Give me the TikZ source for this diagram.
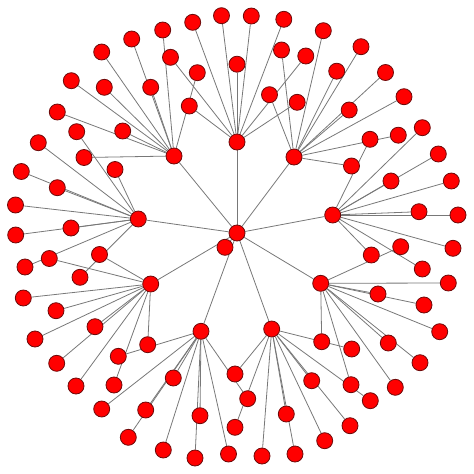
\documentclass[tikz,border=0pt]{standalone}
\usetikzlibrary{backgrounds}
\definecolor{vred}{RGB}{255,0,0}
\definecolor{vrim}{RGB}{110,10,10}
\definecolor{egray}{RGB}{120,120,120}
\begin{document}
\begin{tikzpicture}[x=1pt, y=-1pt]

      \tikzset{vertex/.style={draw=vrim, circle, inner sep=0pt, minimum size=16pt, line width=.8pt, fill=vred}}
      \tikzset{link/.style={draw=egray, line width=.8pt}}
      \useasboundingbox (0,0) rectangle (474,474);
%% Root and hubs
      	\node[vertex] (v0) at (237,233) {};
      	\node[vertex] (h1) at (174,156) {};
      	\node[vertex] (h2) at (237,142) {};
      	\node[vertex] (h3) at (294,157) {};
      	\node[vertex] (h4) at (332.7,215) {};
      	\node[vertex] (h5) at (320.7,283.3) {};
      	\node[vertex] (h6) at (271.7,329) {};
      	\node[vertex] (h7) at (201,331.3) {};
      	\node[vertex] (h8) at (150.7,284) {};
      	\node[vertex] (h9) at (138.3,219) {};
      	\node[vertex] (v91) at (225,247.3) {};
%% Leaves of h1
      	\node[vertex] (v1) at (162.7,30) {};
      	\node[vertex] (v2) at (131.7,39) {};
      	\node[vertex] (v3) at (101.7,52) {};
      	\node[vertex] (v4) at (71.3,80.7) {};
      	\node[vertex] (v5) at (104.3,87.3) {};
      	\node[vertex] (v6) at (150.7,87.3) {};
      	\node[vertex] (v7) at (57.3,112) {};
      	\node[vertex] (v8) at (122.7,131) {};
      	\node[vertex] (v9) at (84,157.5) {};
      	\node[vertex] (v10) at (197.3,72.7) {};
%% Leaves of h2
      	\node[vertex] (v11) at (192.7,22.3) {};
      	\node[vertex] (v12) at (221.5,15.7) {};
      	\node[vertex] (v13) at (251.3,16) {};
      	\node[vertex] (v14) at (283.8,19.3) {};
      	\node[vertex] (v15) at (170.5,57.3) {};
      	\node[vertex] (v16) at (237,64.2) {};
      	\node[vertex] (v17) at (189.3,106) {};
      	\node[vertex] (v18) at (305.8,56) {};
      	\node[vertex] (v19) at (297.2,102.3) {};
%% Leaves of h3
      	\node[vertex] (v21) at (323.3,30.7) {};
      	\node[vertex] (v22) at (281.5,50) {};
      	\node[vertex] (v23) at (361,46.7) {};
      	\node[vertex] (v24) at (336.7,71.2) {};
      	\node[vertex] (v25) at (385.5,72.5) {};
      	\node[vertex] (v26) at (269.5,94.7) {};
      	\node[vertex] (v27) at (404,96.7) {};
      	\node[vertex] (v28) at (349.2,110) {};
      	\node[vertex] (v29) at (398.3,135.2) {};
      	\node[vertex] (v30) at (351.5,166) {};
%% Leaves of h4
      	\node[vertex] (v31) at (422.3,127.7) {};
      	\node[vertex] (v32) at (370,139.3) {};
      	\node[vertex] (v33) at (438.3,154) {};
      	\node[vertex] (v34) at (391,181) {};
      	\node[vertex] (v35) at (451.3,181) {};
      	\node[vertex] (v36) at (419,211.7) {};
      	\node[vertex] (v37) at (458,215) {};
      	\node[vertex] (v38) at (371.3,255) {};
      	\node[vertex] (v39) at (422.3,269) {};
      	\node[vertex] (v40) at (453,248.3) {};
%% Leaves of h5
      	\node[vertex] (v41) at (400.7,246.7) {};
      	\node[vertex] (v42) at (448.3,283) {};
      	\node[vertex] (v43) at (378,294) {};
      	\node[vertex] (v44) at (424,305) {};
      	\node[vertex] (v45) at (439.7,331.7) {};
      	\node[vertex] (v46) at (388.3,343) {};
      	\node[vertex] (v47) at (420,362.7) {};
      	\node[vertex] (v48) at (395.3,387.3) {};
      	\node[vertex] (v49) at (351,384.7) {};
      	\node[vertex] (v50) at (321.7,341.7) {};
%% Leaves of h6
      	\node[vertex] (v51) at (351.7,349) {};
      	\node[vertex] (v52) at (311.7,380.7) {};
      	\node[vertex] (v53) at (350,425.7) {};
      	\node[vertex] (v54) at (324.7,440.7) {};
      	\node[vertex] (v55) at (286.3,414) {};
      	\node[vertex] (v56) at (295,454) {};
      	\node[vertex] (v57) at (262,456) {};
      	\node[vertex] (v58) at (235,374) {};
      	\node[vertex] (v59) at (235,427.3) {};
      	\node[vertex] (v60) at (370.3,400.7) {};
%% Leaves of h7
      	\node[vertex] (v61) at (118.3,356.3) {};
      	\node[vertex] (v62) at (101.7,409) {};
      	\node[vertex] (v63) at (173.3,378) {};
      	\node[vertex] (v64) at (145.7,410) {};
      	\node[vertex] (v65) at (128.3,437.3) {};
      	\node[vertex] (v66) at (163.3,450) {};
      	\node[vertex] (v67) at (200,415.7) {};
      	\node[vertex] (v68) at (195,458) {};
      	\node[vertex] (v69) at (228.5,454) {};
      	\node[vertex] (v70) at (247.7,398.7) {};
%% Leaves of h8
      	\node[vertex] (v71) at (49.3,258.5) {};
      	\node[vertex] (v72) at (99.5,254.5) {};
      	\node[vertex] (v73) at (23.3,298) {};
      	\node[vertex] (v74) at (56,310.7) {};
      	\node[vertex] (v75) at (95,326.7) {};
      	\node[vertex] (v76) at (35,339) {};
      	\node[vertex] (v77) at (56.7,363.3) {};
      	\node[vertex] (v78) at (147.7,344.7) {};
      	\node[vertex] (v79) at (114,385) {};
      	\node[vertex] (v80) at (76,386) {};
%% Leaves of h9
      	\node[vertex] (v81) at (76.7,131.7) {};
      	\node[vertex] (v82) at (38.3,142.7) {};
      	\node[vertex] (v83) at (115,169.5) {};
      	\node[vertex] (v84) at (21.3,171.5) {};
      	\node[vertex] (v85) at (57.3,187.7) {};
      	\node[vertex] (v86) at (15.5,205) {};
      	\node[vertex] (v87) at (71,228) {};
      	\node[vertex] (v88) at (15.7,235) {};
      	\node[vertex] (v89) at (25,267) {};
      	\node[vertex] (v90) at (80,277.3) {};
%Edges
\begin{pgfonlayer}{background}
		\path[link] (v0) edge (h1) edge (h2) edge (h3) edge (h4) edge (h5)
		            edge (h6) edge (h7) edge (h8) edge (h9) edge (v91);
		\path[link] (h1) edge (v1) edge (v2) edge (v3) edge (v4) edge (v5)
		            edge (v6) edge (v7) edge (v8) edge (v9) edge (v10);
		\path[link] (h2) edge (v11) edge (v12) edge (v13) edge (v14) edge (v15)
		            edge (v16) edge (v17) edge (v18) edge (v19);
		\path[link] (h3) edge (v21) edge (v22) edge (v23) edge (v24) edge (v25)
		            edge (v26) edge (v27) edge (v28) edge (v29) edge (v30);
		\path[link] (h4) edge (v31) edge (v32) edge (v33) edge (v34) edge (v35)
		            edge (v36) edge (v37) edge (v38) edge (v39) edge (v40);
		\path[link] (h5) edge (v41) edge (v42) edge (v43) edge (v44) edge (v45)
		            edge (v46) edge (v47) edge (v48) edge (v49) edge (v50);
		\path[link] (h6) edge (v51) edge (v52) edge (v53) edge (v54) edge (v55)
		            edge (v56) edge (v57) edge (v58) edge (v59) edge (v60);
		\path[link] (h7) edge (v61) edge (v62) edge (v63) edge (v64) edge (v65)
		            edge (v66) edge (v67) edge (v68) edge (v69) edge (v70);
		\path[link] (h8) edge (v71) edge (v72) edge (v73) edge (v74) edge (v75)
		            edge (v76) edge (v77) edge (v78) edge (v79) edge (v80);
		\path[link] (h9) edge (v81) edge (v82) edge (v83) edge (v84) edge (v85)
		            edge (v86) edge (v87) edge (v88) edge (v89) edge (v90);
\end{pgfonlayer}

	\end{tikzpicture}
\end{document}
